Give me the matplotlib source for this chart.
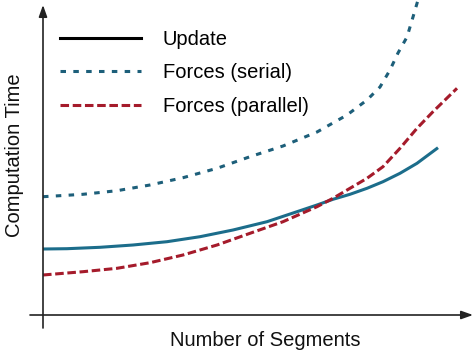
import matplotlib
matplotlib.use("Agg")
import matplotlib.pyplot as plt
from matplotlib.lines import Line2D

plt.rcParams['font.family'] = ['Liberation Sans', 'DejaVu Sans']

# Data (arbitrary units)
update_x = [0.0, 2.4, 5.7, 9.0, 12.4, 15.7, 19.0, 22.4, 25.7, 27.4, 29.0, 30.7,
            32.4, 34.0, 35.7, 37.4, 39.5]
update_y = [6.6, 6.63, 6.77, 7.0, 7.33, 7.83, 8.5, 9.33, 10.43, 11.0, 11.57, 12.07,
            12.67, 13.33, 14.17, 15.17, 16.73]

serial_x = [0.0, 4.0, 7.4, 10.7, 14.0, 17.4, 20.7, 24.0, 27.4, 30.4, 32.4, 33.7,
            34.7, 35.5, 36.4, 37.0, 37.5]
serial_y = [11.83, 12.07, 12.43, 13.0, 13.73, 14.67, 15.83, 16.9, 18.3, 20.0, 21.5,
            22.8, 24.5, 26.2, 27.8, 29.8, 31.5]

parallel_x = [0.0, 4.0, 7.4, 10.7, 14.0, 17.4, 20.7, 24.0, 27.4, 29.0, 30.7, 32.4,
              34.0, 35.7, 37.4, 39.0, 41.4]
parallel_y = [4.0, 4.33, 4.67, 5.23, 6.0, 7.0, 8.17, 9.33, 10.83, 11.67, 12.67, 13.67,
              14.83, 16.67, 18.67, 20.33, 22.67]

labels = ["Update", "Forces (serial)", "Forces (parallel)"]

teal = "#1c6d8b"
teal_dark = "#1d5f7a"
red = "#a51b2b"

fig = plt.figure(figsize=(4.74, 3.58), dpi=100)
ax = fig.add_axes([0, 0, 1, 1])
ax.set_xlim(-4.3, 43.1)
ax.set_ylim(-4.3, 31.5)
ax.axis("off")

ax.plot(update_x, update_y, color=teal, lw=2.2, solid_capstyle="butt")
ax.plot(serial_x, serial_y, color=teal_dark, lw=2.2, linestyle=(0, (1.8, 2.4)))
ax.plot(parallel_x, parallel_y, color=red, lw=2.2, linestyle=(0, (2.8, 1.2)))

# axes with arrows
arrow = dict(arrowstyle="-|>,head_length=0.7,head_width=0.25", color="#222222", lw=1.2,
             shrinkA=0, shrinkB=0)
ax.annotate("", xy=(0, 31.0), xytext=(0, -1.3), arrowprops=arrow)
ax.annotate("", xy=(43.0, 0), xytext=(-1.3, 0), arrowprops=arrow)

fig.text(265 / 474, 1 - 340 / 358, "Number of Segments", fontsize=14.5,
         ha="center", va="center", color="#111111")
fig.text(15 / 474, 1 - 155 / 358, "Computation Time", fontsize=14.5,
         ha="center", va="center", rotation=90, color="#111111")

handles = [
    Line2D([], [], color="black", lw=2.2),
    Line2D([], [], color=teal_dark, lw=2.2, linestyle=(0, (1.8, 2.4))),
    Line2D([], [], color=red, lw=2.2, linestyle=(0, (2.8, 1.2))),
]
fig.legend(handles, labels, loc="upper left", bbox_to_anchor=(60 / 474, 1 - 30 / 358),
           frameon=False, fontsize=14.5, handlelength=4.0, handletextpad=1.1,
           labelspacing=0.72, borderpad=0, borderaxespad=0)

fig.savefig("out.png", dpi=100)
